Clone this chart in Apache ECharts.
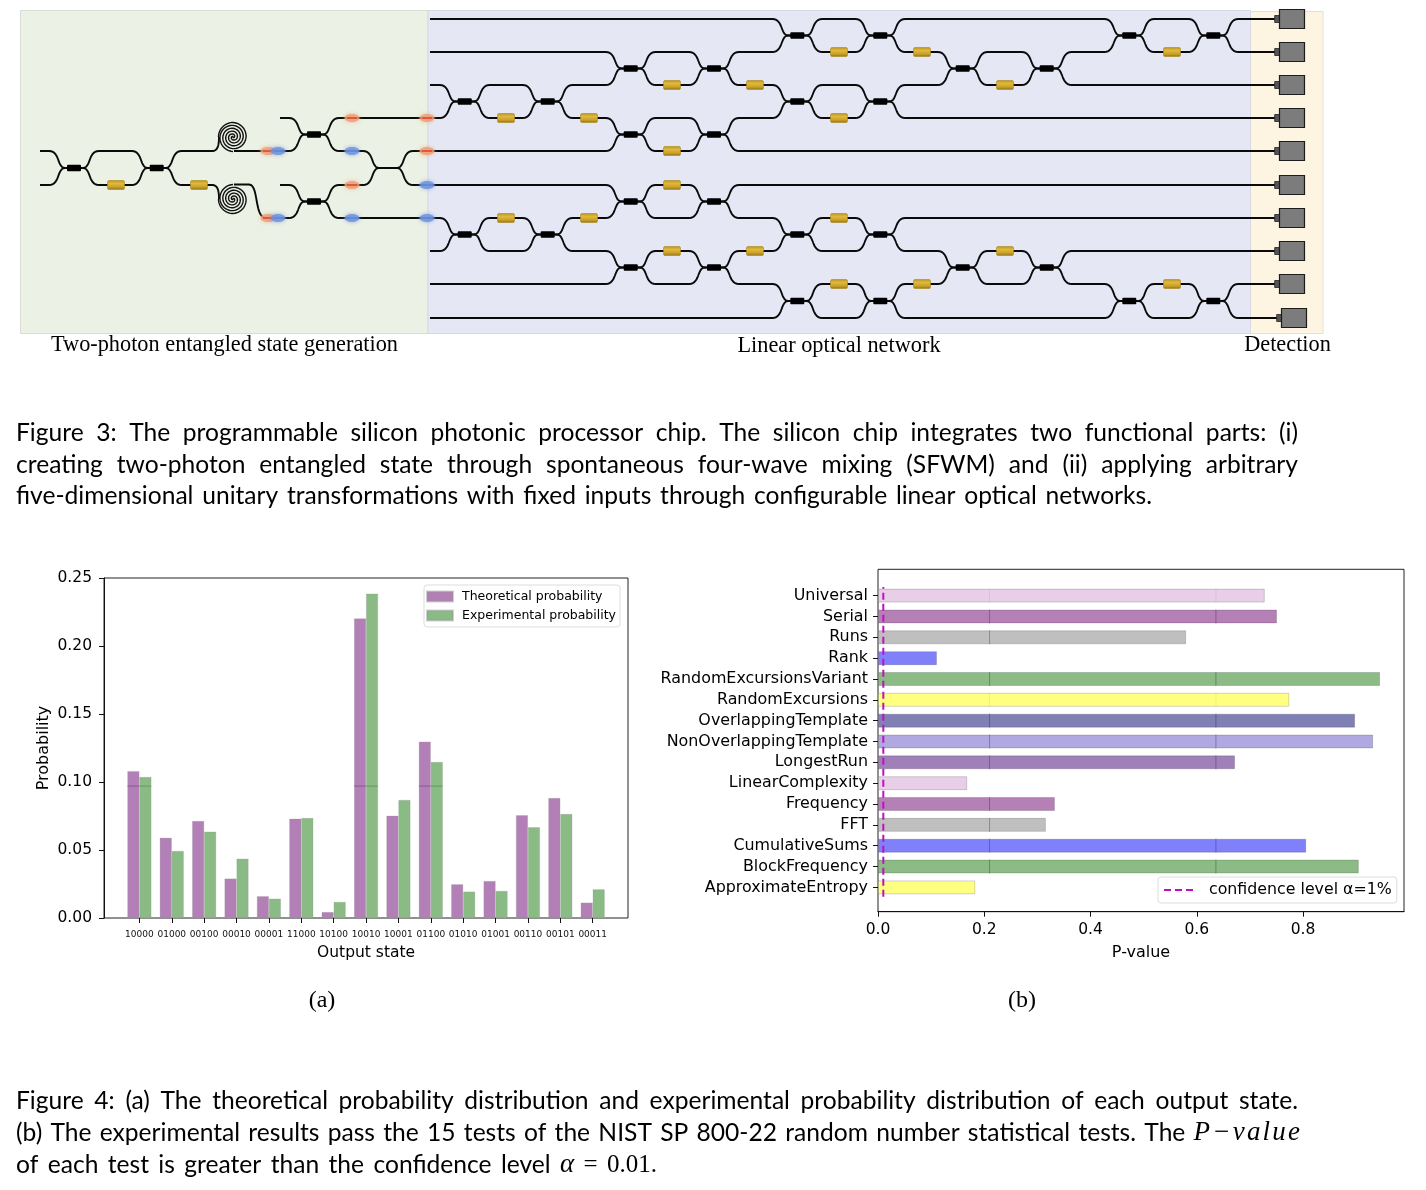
<!DOCTYPE html>
<html>
<head>
<meta charset="utf-8">
<style>html,body{margin:0;padding:0;background:#fff}#c{width:1426px;height:1190px}</style>
<script src="https://cdn.jsdelivr.net/npm/echarts@6/dist/echarts.min.js"></script>
</head>
<body>
<div id="c"></div>
<script>
// ---------- chart (a) data ----------
const outputStates = ['10000','01000','00100','00010','00001','11000','10100','10010','10001','01100','01010','01001','00110','00101','00011'];
const theoretical = [0.108,0.059,0.0713,0.029,0.016,0.073,0.0044,0.2203,0.0752,0.1297,0.0248,0.0272,0.0755,0.0882,0.0113];
const experimental = [0.1037,0.0493,0.0635,0.0436,0.0142,0.0735,0.0118,0.2385,0.0868,0.1147,0.0194,0.0199,0.0667,0.0765,0.0211];
const probabilitySeam = 0.097;

// ---------- chart (b) data (bottom to top) ----------
const nistTests = ['ApproximateEntropy','BlockFrequency','CumulativeSums','FFT','Frequency','LinearComplexity','LongestRun','NonOverlappingTemplate','OverlappingTemplate','RandomExcursions','RandomExcursionsVariant','Rank','Runs','Serial','Universal'];
const pValues = [0.183,0.905,0.806,0.316,0.333,0.168,0.672,0.932,0.898,0.774,0.945,0.111,0.58,0.751,0.728];
const pColors = ['#ffff80','#8cbb85','#8080fa','#bfbfbf','#b580b6','#e8cee9','#a080b8','#b0a8e0','#8080b6','#ffff80','#8cbb85','#8080fa','#bfbfbf','#b580b6','#e8cee9'];
const pSeams = [0.21,0.636];
const confidenceLevel = 0.01;

// ---------- chip schematic ----------
const railY = [19,52,85,118,151,185,218,251,284,318];
const railRuns = [[0,430,1275],[1,430,1275],[2,430,1275],[3,280,1275],[4,40,212],[4,234,1275],[5,40,212],[5,280,1275],[6,266,1275],[7,430,1275],[8,430,1275],[9,430,1278]];
const couplers = [[74,4],[156.7,4],[314,3],[314,5],[388,4,'bare'],
  [464.7,2],[464.7,6],[547.7,2],[547.7,6],
  [630.7,1],[630.7,3],[630.7,5],[630.7,7],[714,1],[714,3],[714,5],[714,7],
  [797.3,0],[797.3,2],[797.3,6],[797.3,8],[880.3,0],[880.3,2],[880.3,6],[880.3,8],
  [962.7,1],[962.7,7],[1046.7,1],[1046.7,7],[1129.3,0],[1129.3,8],[1213.3,0],[1213.3,8]];
const shifters = [[116,5],[199,5],[506,3],[506,6],[589,3],[589,6],[672,2],[672,4],[672,5],[672,7],[755,2],[755,7],
  [839,1],[839,3],[839,6],[839,8],[922,1],[922,8],[1005,2],[1005,7],[1172,1],[1172,8]];
const glows = [[268,151,'o'],[278,151,'b'],[268,218,'o'],[278,218,'b'],[352,118,'o'],[352,151,'b'],[352,185,'o'],[352,218,'b'],[427,118,'o'],[427,151,'o'],[427,185,'b'],[427,218,'b']];
const panelLabels = [['Two-photon entangled state generation',224.5,345],['Linear optical network',839,346],['Detection',1287.5,345]];

// ---------- captions ----------
const captionLines = [
  {y:433,right:1298,parts:[['Figure 3:  The programmable silicon photonic processor chip.  The silicon chip integrates two functional parts:  (i)']]},
  {y:465,right:1298,parts:[['creating two-photon entangled state through spontaneous four-wave mixing (SFWM) and (ii) applying arbitrary']]},
  {y:496,right:1152,parts:[['five-dimensional unitary transformations with fixed inputs through configurable linear optical networks.']]},
  {y:1101,right:1298,parts:[['Figure 4:  (a) The theoretical probability distribution and experimental probability distribution of each output state.']]},
  {y:1133,right:1300,parts:[['(b) The experimental results pass the 15 tests of the NIST SP 800-22 random number statistical tests.  The'],['P\u2212value','italic']]},
  {y:1165,right:657,parts:[['of each test is greater than the confidence level'],['\u03b1','italic'],['= 0.01.','roman']]}
];

const SANS = '"DejaVu Sans"';
const CAP = '"Lato"';
const g = [];

function addRect(x,y,w,h,fill,stroke){
  g.push({type:'rect',shape:{x,y,width:w,height:h},style:{fill,stroke:stroke||'none',lineWidth:stroke?1:0},silent:true});
}
addRect(20.5,10.5,407.5,323,'#ebf1e4','#d8dcd4');
addRect(1250.5,11.5,72.5,322,'#fdf5e1','#e4e0d4');
addRect(428,10.5,822.5,323,'#e5e8f4','#d8d9e2');

function addPoly(points,stroke,lineWidth){
  g.push({type:'polyline',shape:{points},style:{fill:'none',stroke,lineWidth},silent:true});
}
function curve(pts,p0,p1,p2,p3){
  for(let i=1;i<=14;i++){
    const t=i/14,u=1-t;
    pts.push([u*u*u*p0[0]+3*u*u*t*p1[0]+3*u*t*t*p2[0]+t*t*t*p3[0],u*u*u*p0[1]+3*u*u*t*p1[1]+3*u*t*t*p2[1]+t*t*t*p3[1]]);
  }
}
const WG = 1.9;
// waveguides
railRuns.forEach(([r,x0,x1])=>{
  const y = railY[r], pts=[[x0,y]];
  couplers.filter(c=>c[0]>x0&&c[0]<x1&&(c[1]===r||c[1]===r-1)).sort((a,b)=>a[0]-b[0]).forEach(c=>{
    const xc=c[0], mid=(railY[c[1]]+railY[c[1]+1])/2;
    pts.push([xc-25,y]);
    curve(pts,[xc-25,y],[xc-14,y],[xc-17,mid],[xc-9,mid]);
    pts.push([xc+9,mid]);
    curve(pts,[xc+9,mid],[xc+17,mid],[xc+14,y],[xc+25,y]);
  });
  pts.push([x1,y]);
  addPoly(pts,'#0a0a0a',WG);
});
// spiral tails
let t1=[[212,151]]; curve(t1,[212,151],[217,151],[219,147],[219,137]); addPoly(t1,'#0a0a0a',WG);
let t2=[[212,185]]; curve(t2,[212,185],[217,185],[219,189],[219,199]); addPoly(t2,'#0a0a0a',WG);
let t3=[[234,184.5],[249,184.5]]; curve(t3,[249,184.5],[259,184.5],[254,218],[266,218]); addPoly(t3,'#0a0a0a',WG);

// spirals
function spiral(cx,cy,s){
  const R=14.5, turns=2.5, n=120;
  for(const off of [0,Math.PI]){
    const pts=[];
    for(let i=0;i<=n;i++){
      const f=i/n, r=R*f, th=Math.PI/2+off+turns*2*Math.PI*(1-f);
      pts.push([cx+r*Math.cos(th),cy+s*r*Math.sin(th)]);
    }
    addPoly(pts,'#111',1.4);
  }
  const pts=[];
  for(let i=0;i<=20;i++){
    const th=-Math.PI/2-i/20*Math.PI/2;
    pts.push([cx+R*Math.cos(th),cy+s*R*Math.sin(th)]);
  }
  addPoly(pts,'#111',1.4);
}
spiral(233,137,1);
spiral(233,199,-1);

// coupler blocks
couplers.filter(c=>!c[2]).forEach(c=>{
  const mid=(railY[c[1]]+railY[c[1]+1])/2;
  g.push({type:'rect',shape:{x:c[0]-7,y:mid-3.2,width:14,height:6.4,r:1},style:{fill:'#000'},silent:true});
});
// phase shifters
shifters.forEach(([x,r])=>{
  g.push({type:'rect',shape:{x:x-8.5,y:railY[r]-4.5,width:17,height:9,r:1.5},silent:true,
    style:{stroke:'#a98818',lineWidth:0.6,fill:{type:'linear',x:0,y:0,x2:0,y2:1,colorStops:[{offset:0,color:'#b69428'},{offset:0.35,color:'#e2b93a'},{offset:0.7,color:'#c9a12c'},{offset:1,color:'#8f7216'}]}}});
});
// glows
glows.forEach(([x,y,k])=>{
  const col = k==='o'?'232,160,120':'110,145,220';
  g.push({type:'ellipse',shape:{cx:x,cy:y,rx:7.5,ry:4},silent:true,
    style:{fill:`rgba(${col},.8)`,shadowBlur:4,shadowColor:`rgba(${col},.8)`}});
  g.push({type:'line',shape:{x1:x-5,y1:y,x2:x+5,y2:y},silent:true,style:{stroke:k==='o'?'#f23a20':'#5f8fd8',lineWidth:1.4}});
});
// detectors
railY.forEach((y,i)=>{
  const dx = i===9?2:0;
  g.push({type:'rect',shape:{x:1274.7+dx,y:y-3.5,width:5,height:7},style:{fill:'#555',stroke:'#222',lineWidth:0.8},silent:true});
  g.push({type:'rect',shape:{x:1279.5+dx,y:y-9.5,width:25,height:19},style:{fill:'#7c7c7c',stroke:'#1c1c1c',lineWidth:1.2},silent:true});
});
// labels
function addText(t,x,y,font,align){
  g.push({type:'text',silent:true,style:{text:t,x,y,font,fill:'#000',textAlign:align||'center',textVerticalAlign:'middle'}});
}
panelLabels.forEach(l=>addText(l[0],l[1],l[2],'22.3px "Liberation Serif"'));
addText('(a)',322,1001,'24px "Liberation Serif"');
addText('(b)',1022,1001,'24px "Liberation Serif"');

// justified captions
const mctx = document.createElement('canvas').getContext('2d');
const TRACK = 2.2;
captionLines.forEach(line=>{
  const words=[];
  line.parts.forEach(p=>{
    const font = p[1]==='italic' ? 'italic 27px "Liberation Serif"' : p[1]==='roman' ? '25px "Liberation Serif"' : `24.6px ${CAP}`;
    p[0].split(/\s+/).forEach(w=>words.push({w,font,tracked:p[1]==='italic'&&w.length>1}));
  });
  let total=0;
  words.forEach(o=>{
    mctx.font=o.font;
    o.width=mctx.measureText(o.w).width+(o.tracked?TRACK*(o.w.length-1):0);
    total+=o.width;
  });
  const gap=(line.right-16-total)/(words.length-1);
  let x=16;
  words.forEach(o=>{
    if(o.tracked){
      let cx=x;
      mctx.font=o.font;
      for(const ch of o.w){addText(ch,cx,line.y,o.font,'left');cx+=mctx.measureText(ch).width+TRACK;}
    }else addText(o.w,x,line.y,o.font,'left');
    x+=o.width+gap;
  });
});

const tickFont = {fontFamily:SANS,fontSize:15.5,color:'#000'};
const axisLine = {show:true,lineStyle:{color:'#111',width:1}};
const axisTick = {show:true,length:5,lineStyle:{color:'#111',width:1},alignWithLabel:true};

function seamA(params,api){
  const p=api.coord([api.value(0),probabilitySeam]);
  const mk=(x1,x2,c)=>({type:'line',shape:{x1,y1:p[1],x2,y2:p[1]},style:{stroke:c,lineWidth:1}});
  return {type:'group',children:[mk(p[0]-12,p[0],'rgba(80,0,90,.35)'),mk(p[0],p[0]+12,'rgba(0,80,0,.3)')]};
}
function seamB(params,api){
  const p=api.coord([api.value(0),api.value(1)]);
  const light=[0,5,9,14].includes(api.value(1));
  return {type:'line',shape:{x1:p[0],y1:p[1]-7,x2:p[0],y2:p[1]+7},style:{stroke:light?'rgba(0,0,0,.06)':'rgba(0,0,40,.28)',lineWidth:1}};
}
const seamDataA = outputStates.map((_,i)=>i).filter(i=>theoretical[i]>probabilitySeam&&experimental[i]>probabilitySeam).map(i=>[i,probabilitySeam]);
const seamDataB = [];
pValues.forEach((v,i)=>pSeams.forEach(s=>{if(v>s)seamDataB.push([s,i]);}));

const option = {
  animation:false,
  backgroundColor:'#fff',
  textStyle:{fontFamily:SANS},
  graphic:{elements:g},
  grid:[
    {left:104,width:524,top:578,height:340,show:true,borderColor:'#222',borderWidth:1,backgroundColor:'transparent'},
    {left:123.2,width:485.7,top:578,height:340},
    {left:878,width:526,top:569.3,height:342.4,show:true,borderColor:'#222',borderWidth:1,backgroundColor:'transparent'},
    {left:878,width:526,top:585.2,height:312.6}
  ],
  xAxis:[
    {gridIndex:0,type:'value',min:0,max:1,show:false},
    {gridIndex:1,type:'category',data:outputStates,axisLine:{show:false},axisTick,
      axisLabel:{fontFamily:SANS,fontSize:9,color:'#111',margin:12,interval:0},
      name:'Output state',nameLocation:'middle',nameGap:27,nameTextStyle:{fontFamily:SANS,fontSize:15.5,color:'#000'}},
    {gridIndex:2,type:'value',min:0,max:0.99,interval:0.2,axisLine,axisTick,splitLine:{show:false},
      axisLabel:{...tickFont,margin:10,showMaxLabel:false,formatter:v=>v.toFixed(1)},
      name:'P-value',nameLocation:'middle',nameGap:33,nameTextStyle:{fontFamily:SANS,fontSize:16,color:'#000'}},
    {gridIndex:3,type:'value',min:0,max:0.99,show:false}
  ],
  yAxis:[
    {gridIndex:0,type:'value',min:0,max:0.25,interval:0.05,axisLine,axisTick,splitLine:{show:false},
      axisLabel:{...tickFont,margin:12,padding:[5,0,0,0],formatter:v=>v.toFixed(2)},
      name:'Probability',nameLocation:'middle',nameGap:52,nameTextStyle:{fontFamily:SANS,fontSize:16,color:'#000'}},
    {gridIndex:1,type:'value',min:0,max:0.25,show:false},
    {gridIndex:2,type:'value',min:0,max:1,show:false},
    {gridIndex:3,type:'category',data:nistTests,axisLine:{show:false},axisTick,
      axisLabel:{fontFamily:SANS,fontSize:15.9,color:'#000',margin:10,interval:0}}
  ],
  legend:[
    {left:424,top:585,orient:'vertical',data:['Theoretical probability','Experimental probability'],itemWidth:26,itemHeight:10,itemGap:6,icon:'rect',
      textStyle:{fontFamily:SANS,fontSize:12.5,color:'#000',padding:[0,0,0,4]},backgroundColor:'rgba(255,255,255,.85)',borderColor:'#ddd',borderWidth:1,borderRadius:3,padding:[5,4,5,2]},
    {left:1158,top:877,data:['confidence level \u03b1=1%'],itemWidth:33,itemHeight:2,
      textStyle:{fontFamily:SANS,fontSize:15.8,color:'#000',padding:[0,0,0,7]},backgroundColor:'rgba(255,255,255,.85)',borderColor:'#ddd',borderWidth:1,borderRadius:3,padding:[5,5,5,5]}
  ],
  series:[
    {name:'Theoretical probability',type:'bar',xAxisIndex:1,yAxisIndex:1,data:theoretical,barWidth:12,barGap:0,
      itemStyle:{color:'#b280b6',borderColor:'rgba(150,150,150,.45)',borderWidth:0.6}},
    {name:'Experimental probability',type:'bar',xAxisIndex:1,yAxisIndex:1,data:experimental,barWidth:12,barGap:0,
      itemStyle:{color:'#8abb84',borderColor:'rgba(150,150,150,.45)',borderWidth:0.6}},
    {type:'custom',xAxisIndex:1,yAxisIndex:1,data:seamDataA,renderItem:seamA,encode:{x:0,y:1},silent:true,z:5},
    {name:'p-values',type:'bar',xAxisIndex:3,yAxisIndex:3,barWidth:14,
      data:pValues.map((v,i)=>({value:v,itemStyle:{color:pColors[i]}})),
      itemStyle:{borderColor:'rgba(0,0,0,.16)',borderWidth:1}},
    {type:'custom',xAxisIndex:3,yAxisIndex:3,data:seamDataB,renderItem:seamB,encode:{x:0,y:1},silent:true,z:5},
    {name:'confidence level \u03b1=1%',type:'line',xAxisIndex:2,yAxisIndex:2,showSymbol:false,symbol:'none',z:10,
      data:[[confidenceLevel,0.044],[confidenceLevel,0.948]],
      itemStyle:{color:'#bf10bf'},
      lineStyle:{color:'#bf10bf',type:[7,4],width:2}}
  ]
};
const chart = echarts.init(document.getElementById('c'),null,{renderer:'canvas',width:1426,height:1190});
chart.setOption(option);
</script>
</body>
</html>
